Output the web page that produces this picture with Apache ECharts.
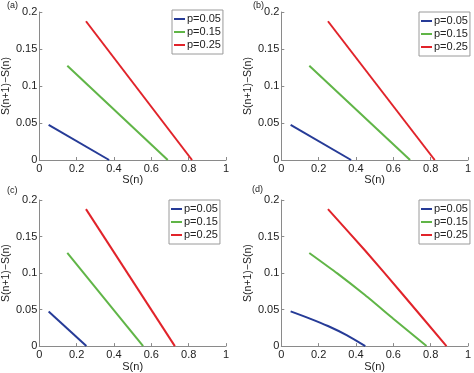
<!DOCTYPE html>
<html>
<head>
<meta charset="utf-8">
<script src="https://cdn.jsdelivr.net/npm/echarts@6/dist/echarts.min.js"></script>
<style>html,body{margin:0;padding:0;background:#fff}#c{width:474px;height:373px}</style>
</head>
<body>
<div id="c"></div>
<script>
const seriesNames = ['p=0.05', 'p=0.15', 'p=0.25'];
const panelLabels = ['(a)', '(b)', '(c)', '(d)'];
const xTicks = [0, 0.2, 0.4, 0.6, 0.8, 1];
const yTicks = [0, 0.05, 0.1, 0.15, 0.2];

// panel (a)
const a_p005 = [[0.05, 0.0475], [0.374, 0]];
const a_p015 = [[0.15, 0.1275], [0.688, 0]];
const a_p025 = [[0.25, 0.1875], [0.818, 0]];
// panel (b)
const b_p005 = [[0.05, 0.0475], [0.374, 0]];
const b_p015 = [[0.15, 0.1275], [0.69, 0]];
const b_p025 = [[0.25, 0.1875], [0.822, 0]];
// panel (c)
const c_p005 = [[0.05, 0.0475], [0.252, 0]];
const c_p015 = [[0.15, 0.1275], [0.556, 0]];
const c_p025 = [[0.25, 0.1875], [0.726, 0]];
// panel (d)
const d_p005 = [[0.05, 0.0475], [0.15, 0.038], [0.25, 0.0275], [0.35, 0.015], [0.45, 0]];
const d_p015 = [[0.15, 0.1275], [0.3, 0.0995], [0.45, 0.0695], [0.6, 0.0375], [0.778, 0]];
const d_p025 = [[0.25, 0.1875], [0.45, 0.1305], [0.65, 0.071], [0.885, 0]];

const panelData = [
  [a_p005, a_p015, a_p025],
  [b_p005, b_p015, b_p025],
  [c_p005, c_p015, c_p025],
  [d_p005, d_p015, d_p025]
];
const colors = ['#263b97', '#60b547', '#e1232a'];
const FONT = 'Liberation Sans, Arial, Helvetica, sans-serif';

const grids = [
  {left: 34.5, top: 12, width: 191.5, height: 148},
  {left: 281.3, top: 12, width: 191, height: 148},
  {left: 34.5, top: 200, width: 191.5, height: 148.5},
  {left: 281.3, top: 200, width: 191, height: 148}
];
const legendPos = [
  {left: 172, top: 10},
  {left: 419, top: 12},
  {left: 169, top: 200},
  {left: 419, top: 200}
];
const labelPos = [[7, 6], [253, 6], [7, 191], [252, 190]];

const axisLineStyle = {color: '#8a8a8a', width: 1};
const xAxes = grids.map((g, i) => ({
  type: 'value', gridIndex: i, min: xTicks[0], max: xTicks[xTicks.length - 1], interval: 0.2,
  axisLine: {show: true, lineStyle: axisLineStyle},
  axisTick: {show: true, inside: true, length: 3, lineStyle: axisLineStyle},
  splitLine: {show: false},
  axisLabel: {color: '#222', fontSize: 11, fontFamily: FONT, margin: 3},
  name: 'S(n)', nameLocation: 'middle', nameGap: 13,
  nameTextStyle: {color: '#222', fontSize: 11, fontFamily: FONT}
}));
const yAxes = grids.map((g, i) => ({
  type: 'value', gridIndex: i, min: yTicks[0], max: yTicks[yTicks.length - 1], interval: 0.05,
  axisLine: {show: true, lineStyle: axisLineStyle},
  axisTick: {show: true, inside: true, length: 3, lineStyle: axisLineStyle},
  splitLine: {show: false},
  axisLabel: {color: '#222', fontSize: 11, fontFamily: FONT, margin: 2},
  name: 'S(n+1)\u2212S(n)', nameLocation: 'middle', nameGap: 27, nameRotate: 90,
  nameTextStyle: {color: '#222', fontSize: 10.5, fontFamily: FONT}
}));

const series = [];
panelData.forEach((arr, i) => {
  arr.forEach((d, k) => {
    series.push({
      type: 'line', name: seriesNames[k], xAxisIndex: i, yAxisIndex: i,
      data: d, showSymbol: false, symbol: 'none', smooth: d.length > 2 ? 0.2 : false,
      lineStyle: {color: colors[k], width: 2}, itemStyle: {color: colors[k]},
      animation: false
    });
  });
});

const legends = legendPos.map(p => ({
  left: p.left, top: p.top, orient: 'vertical',
  data: seriesNames, icon: 'rect', itemWidth: 11, itemHeight: 2, itemGap: 1,
  padding: [3, 2, 3, 2], borderColor: '#9a9a9a', borderWidth: 1, backgroundColor: '#fff',
  selectedMode: false,
  textStyle: {color: '#222', fontSize: 11, fontFamily: FONT, padding: [0, 0, 0, -3], lineHeight: 12}
}));

const graphics = panelLabels.map((t, i) => ({
  type: 'text', left: labelPos[i][0], top: labelPos[i][1] - 5,
  style: {text: t, fontSize: 9, fontFamily: FONT, fill: '#222'}
}));

const chart = echarts.init(document.getElementById('c'), null, {renderer: 'canvas'});
chart.setOption({
  backgroundColor: '#fff',
  animation: false,
  grid: grids,
  xAxis: xAxes,
  yAxis: yAxes,
  legend: legends,
  series: series,
  graphic: graphics
});
</script>
</body>
</html>
